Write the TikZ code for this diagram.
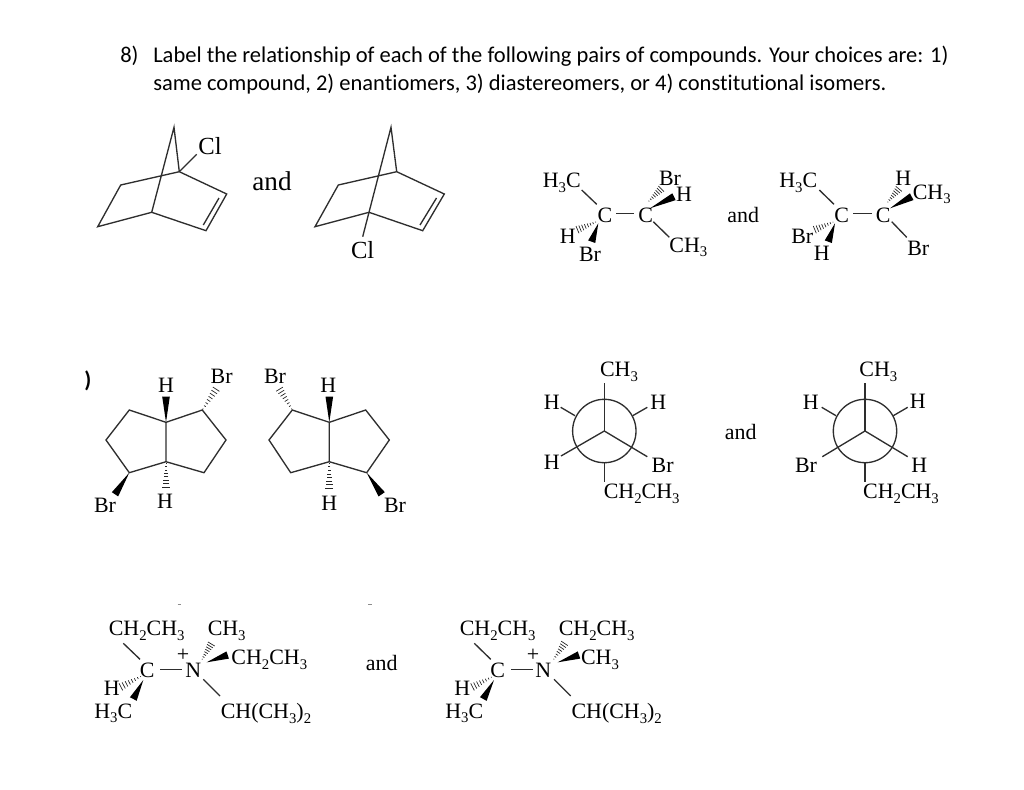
\documentclass[tikz,border=0pt]{standalone}
\usepackage{fontspec}
\setmainfont{Liberation Serif}
\newfontfamily\qfont[Ligatures=CommonOff]{Carlito}
\usetikzlibrary{calc}
\newcommand{\sbs}[1]{\raisebox{-0.22em}{\fontsize{10.5}{10.5}\selectfont #1}}
\tikzset{
  chem/.style={inner sep=0pt,font=\fontsize{15.6}{18}\selectfont},
  bigchem/.style={inner sep=0pt,font=\fontsize{17.5}{20}\selectfont},
  question/.style={inner sep=0pt,anchor=base west,font=\qfont\fontsize{16}{18}\selectfont},
  bond/.style={line width=0.95pt,draw=black!82},
  wedgebond/.style={fill=black,to path={-- ($(\tikztotarget)!2.7pt!90:(\tikztostart)$) -- ($(\tikztotarget)!2.7pt!-90:(\tikztostart)$) -- cycle}},
  hashbond/.style={line width=0.5pt,draw=black!85,to path={
    \foreach \t/\w in {0.05/0.3pt,0.18/0.7pt,0.31/1pt,0.44/1.4pt,0.57/1.7pt,0.7/2.1pt,0.83/2.4pt,0.96/2.8pt}
      {($(\tikztostart)!\t!(\tikztotarget)!\w!90:(\tikztotarget)$) -- ($(\tikztostart)!\t!(\tikztotarget)!\w!-90:(\tikztotarget)$)}}},
}
\begin{document}
\begin{tikzpicture}[x=0.025cm,y=-0.025cm]
  \useasboundingbox (0,0) rectangle (1024,789);

  % question
  \node[question] (num) at (120,62) {8)};
  \node[question] (line1) at (153,62) {Label the relationship of each of the following pairs of compounds. Your choices are: 1)};
  \node[question] (line2) at (153,90) {same compound, 2) enantiomers, 3) diastereomers, or 4) constitutional isomers.};
  \node[question] (paren) at (84,387) {\bfseries )};

  % first pair
  \coordinate (A1) at (174,127.3);
  \coordinate (A2) at (179.3,171.7);
  \coordinate (A3) at (151.7,212.3);
  \coordinate (A4) at (120.7,185);
  \coordinate (A5) at (97.7,226.7);
  \coordinate (A6) at (226.7,194);
  \coordinate (A7) at (206,230.7);
  \coordinate (A8) at (219,198);
  \coordinate (A9) at (203.3,225);
  \coordinate (A10) at (196.7,154.3);
  \node[bigchem] (ACl) at (210,145.7) {Cl};
  \draw[bond] (A2) -- (A1) -- (A3) -- (A5) -- (A4) -- (A2) -- (A6) -- (A7) -- (A3);
  \draw[bond] (A8) -- (A9);
  \draw[bond] (A2) -- (A10);
  \node[bigchem,font=\fontsize{19.3}{22}\selectfont] (and1) at (272,181) {and};

  \coordinate (B1) at (391,127.3);
  \coordinate (B2) at (396.7,171.7);
  \coordinate (B3) at (369,212.3);
  \coordinate (B4) at (338.3,185);
  \coordinate (B5) at (315,226.7);
  \coordinate (B6) at (444.3,194);
  \coordinate (B7) at (422.7,230.7);
  \coordinate (B8) at (436.5,198);
  \coordinate (B9) at (420,225);
  \coordinate (B10) at (362.7,236.7);
  \node[bigchem] (BCl) at (362.7,250) {Cl};
  \draw[bond] (B2) -- (B1) -- (B3) -- (B5) -- (B4) -- (B2) -- (B6) -- (B7) -- (B3);
  \draw[bond] (B8) -- (B9);
  \draw[bond] (B3) -- (B10);

  % second pair
  \node[chem] (C1) at (605,215) {C};
  \node[chem] (C2) at (645.7,215) {C};
  \node[chem] (C3) at (561.7,182.7) {H\sbs{3}C};
  \node[chem] (C4) at (670,178.3) {Br};
  \node[chem] (C5) at (684,194) {H};
  \node[chem] (C6) at (688.3,247.3) {CH\sbs{3}};
  \node[chem] (C7) at (567.7,236) {H};
  \node[chem] (C8) at (590,254) {Br};
  \coordinate (c1) at (581.7,190);
  \coordinate (c2) at (596.7,204.3);
  \coordinate (c3) at (616,213.3);
  \coordinate (c4) at (634,213.3);
  \coordinate (c5) at (596.7,221.7);
  \coordinate (c6) at (576.7,230);
  \coordinate (c7) at (598.3,223.3);
  \coordinate (c8) at (591.7,241.7);
  \coordinate (c9) at (648.3,201.7);
  \coordinate (c10) at (661.7,188.3);
  \coordinate (c11) at (650,208.3);
  \coordinate (c12) at (674,196.7);
  \coordinate (c13) at (653.3,221.7);
  \coordinate (c14) at (669.3,237.3);
  \draw[bond] (c1) -- (c2);
  \draw[bond] (c3) -- (c4);
  \draw[bond] (c13) -- (c14);
  \draw[hashbond] (c5) to (c6);
  \draw[hashbond] (c9) to (c10);
  \fill[wedgebond] (c7) to (c8);
  \fill[wedgebond] (c11) to (c12);
  \node[chem] (and2) at (743.3,215) {and};

  \node[chem] (D1) at (841.7,215) {C};
  \node[chem] (D2) at (883.3,215) {C};
  \node[chem] (D3) at (798.3,182.7) {H\sbs{3}C};
  \node[chem] (D4) at (903.3,178.3) {H};
  \node[chem] (D5) at (931.7,194.3) {CH\sbs{3}};
  \node[chem] (D6) at (918.3,248.3) {Br};
  \node[chem] (D7) at (802.3,236) {Br};
  \node[chem] (D8) at (821.7,253.3) {H};
  \coordinate (d1) at (819.3,190);
  \coordinate (d2) at (834,204.3);
  \coordinate (d3) at (853.3,213.3);
  \coordinate (d4) at (871.7,213.3);
  \coordinate (d5) at (834,221.7);
  \coordinate (d6) at (814,230);
  \coordinate (d7) at (835,223.3);
  \coordinate (d8) at (828.3,241.7);
  \coordinate (d9) at (887.3,202.7);
  \coordinate (d10) at (899.3,188.3);
  \coordinate (d11) at (890,208.3);
  \coordinate (d12) at (911.7,196.7);
  \coordinate (d13) at (891.7,221.7);
  \coordinate (d14) at (906.7,237.3);
  \draw[bond] (d1) -- (d2);
  \draw[bond] (d3) -- (d4);
  \draw[bond] (d13) -- (d14);
  \draw[hashbond] (d5) to (d6);
  \draw[hashbond] (d9) to (d10);
  \fill[wedgebond] (d7) to (d8);
  \fill[wedgebond] (d11) to (d12);

  % third pair
  \coordinate (E1) at (166,422.3);
  \coordinate (E2) at (166,461.7);
  \coordinate (E3) at (129.3,410);
  \coordinate (E4) at (106,440);
  \coordinate (E5) at (129.3,472.7);
  \coordinate (E6) at (202.3,410);
  \coordinate (E7) at (226,440);
  \coordinate (E8) at (204,472.7);
  \coordinate (e1) at (166,396.7);
  \coordinate (e2) at (216.7,388.3);
  \coordinate (e3) at (115,494.3);
  \coordinate (e4) at (166,488);
  \node[chem] (EH1) at (166,385) {H};
  \node[chem] (EBr1) at (221.7,376.7) {Br};
  \node[chem] (EBr2) at (105,505) {Br};
  \node[chem] (EH2) at (165,501.7) {H};
  \draw[bond] (E1) -- (E3) -- (E4) -- (E5) -- (E2) -- (E8) -- (E7) -- (E6) -- (E1) -- (E2);
  \fill[wedgebond] (E1) to (e1);
  \fill[wedgebond] (E5) to (e3);
  \draw[hashbond] (E6) to (e2);
  \draw[hashbond] (E2) to (e4);

  \coordinate (F1) at (329.3,422.3);
  \coordinate (F2) at (329.3,461.7);
  \coordinate (F3) at (292.3,410);
  \coordinate (F4) at (269,440);
  \coordinate (F5) at (290.7,472.7);
  \coordinate (F6) at (365.7,410);
  \coordinate (F7) at (389.3,440);
  \coordinate (F8) at (366.7,472.7);
  \coordinate (f1) at (329.3,396.7);
  \coordinate (f2) at (279,388.3);
  \coordinate (f3) at (381.7,494.3);
  \coordinate (f4) at (329.3,489.3);
  \node[chem] (FH1) at (328.3,385) {H};
  \node[chem] (FBr1) at (275,376.7) {Br};
  \node[chem] (FBr2) at (395,505) {Br};
  \node[chem] (FH2) at (329.3,503.3) {H};
  \draw[bond] (F1) -- (F3) -- (F4) -- (F5) -- (F2) -- (F8) -- (F7) -- (F6) -- (F1) -- (F2);
  \fill[wedgebond] (F1) to (f1);
  \fill[wedgebond] (F8) to (f3);
  \draw[hashbond] (F3) to (f2);
  \draw[hashbond] (F2) to (f4);

  % fourth pair
  \coordinate (G0) at (604.3,431);
  \draw[bond] (G0) circle (31.7);
  \coordinate (g1) at (604.3,383.3);
  \coordinate (g2) at (561,456);
  \coordinate (g3) at (647.3,456.7);
  \coordinate (g4) at (560.7,407.3);
  \coordinate (g5) at (575,415.7);
  \coordinate (g6) at (647.3,407.3);
  \coordinate (g7) at (632.7,415.7);
  \coordinate (g8) at (604.3,463.3);
  \coordinate (g9) at (604.3,482.3);
  \draw[bond] (g1) -- (G0);
  \draw[bond] (g2) -- (G0);
  \draw[bond] (g3) -- (G0);
  \draw[bond] (g4) -- (g5);
  \draw[bond] (g6) -- (g7);
  \draw[bond] (g8) -- (g9);
  \node[chem] (GCH) at (619,371.7) {CH\sbs{3}};
  \node[chem] (GH1) at (551.7,402.7) {H};
  \node[chem] (GH2) at (658.3,402.7) {H};
  \node[chem] (GH3) at (551.7,462.3) {H};
  \node[chem] (GBr) at (662.7,465) {Br};
  \node[chem] (GEt) at (641.7,494) {CH\sbs{2}CH\sbs{3}};
  \node[chem] (and3) at (740.7,431.7) {and};

  \coordinate (H0) at (865,431);
  \draw[bond] (H0) circle (31.7);
  \coordinate (h1) at (865,383.3);
  \coordinate (h2) at (822.3,456.7);
  \coordinate (h3) at (907.7,456.7);
  \coordinate (h4) at (821.7,407.3);
  \coordinate (h5) at (836,415.7);
  \coordinate (h6) at (907.7,407.3);
  \coordinate (h7) at (893.3,415.7);
  \coordinate (h8) at (865,463.3);
  \coordinate (h9) at (865,482.3);
  \draw[bond] (h1) -- (H0);
  \draw[bond] (h2) -- (H0);
  \draw[bond] (h3) -- (H0);
  \draw[bond] (h4) -- (h5);
  \draw[bond] (h6) -- (h7);
  \draw[bond] (h8) -- (h9);
  \node[chem] (HCH) at (878.3,371.7) {CH\sbs{3}};
  \node[chem] (HH1) at (810.7,402.7) {H};
  \node[chem] (HH2) at (917.7,401.7) {H};
  \node[chem] (HBr) at (806,465.7) {Br};
  \node[chem] (HH3) at (919.3,465) {H};
  \node[chem] (HEt) at (901,494) {CH\sbs{2}CH\sbs{3}};

  % fifth pair
  \node[chem] (I1) at (147.3,670.7) {C};
  \node[chem] (I2) at (193.3,670.7) {N};
  \node[chem] (Iplus) at (183,655.5) {+};
  \node[chem] (I3) at (146.7,630.7) {CH\sbs{2}CH\sbs{3}};
  \node[chem] (I4) at (226.7,630.7) {CH\sbs{3}};
  \node[chem] (I5) at (269.3,660) {CH\sbs{2}CH\sbs{3}};
  \node[chem] (I6) at (266,713.3) {CH(CH\sbs{3})\sbs{2}};
  \node[chem] (I7) at (111.7,688.3) {H};
  \node[chem] (I8) at (113.3,713.3) {H\sbs{3}C};
  \coordinate (i1) at (160,669.3);
  \coordinate (i2) at (181.7,669.3);
  \coordinate (i3) at (123.3,643.3);
  \coordinate (i4) at (140,659.3);
  \coordinate (i5) at (201.7,660);
  \coordinate (i6) at (211.7,643.3);
  \coordinate (i7) at (206.7,662.3);
  \coordinate (i8) at (227.7,655);
  \coordinate (i9) at (203.3,679.3);
  \coordinate (i10) at (220,696);
  \coordinate (i11) at (141.7,676);
  \coordinate (i12) at (120,687.3);
  \coordinate (i13) at (143.3,680);
  \coordinate (i14) at (133.3,699);
  \draw[bond] (i1) -- (i2);
  \draw[bond] (i3) -- (i4);
  \draw[bond] (i9) -- (i10);
  \draw[hashbond] (i5) to (i6);
  \draw[hashbond] (i11) to (i12);
  \fill[wedgebond] (i7) to (i8);
  \fill[wedgebond] (i13) to (i14);
  \node[chem] (and4) at (381.7,663.3) {and};

  \node[chem] (J1) at (497.7,670.7) {C};
  \node[chem] (J2) at (543.3,670.7) {N};
  \node[chem] (Jplus) at (533,655.5) {+};
  \node[chem] (J3) at (497.7,630.7) {CH\sbs{2}CH\sbs{3}};
  \node[chem] (J4) at (596.7,630.7) {CH\sbs{2}CH\sbs{3}};
  \node[chem] (J5) at (600,660) {CH\sbs{3}};
  \node[chem] (J6) at (616.7,713.3) {CH(CH\sbs{3})\sbs{2}};
  \node[chem] (J7) at (462.3,688.3) {H};
  \node[chem] (J8) at (464.3,713.3) {H\sbs{3}C};
  \coordinate (j1) at (511,669.3);
  \coordinate (j2) at (532.7,669.3);
  \coordinate (j3) at (474.3,643.3);
  \coordinate (j4) at (490.7,659.3);
  \coordinate (j5) at (553.3,660);
  \coordinate (j6) at (565,642.7);
  \coordinate (j7) at (557.7,662.3);
  \coordinate (j8) at (579,655);
  \coordinate (j9) at (554,679.3);
  \coordinate (j10) at (570.7,696);
  \coordinate (j11) at (492.3,676.7);
  \coordinate (j12) at (471.7,687.3);
  \coordinate (j13) at (494,680);
  \coordinate (j14) at (483.3,699);
  \draw[bond] (j1) -- (j2);
  \draw[bond] (j3) -- (j4);
  \draw[bond] (j9) -- (j10);
  \draw[hashbond] (j5) to (j6);
  \draw[hashbond] (j11) to (j12);
  \fill[wedgebond] (j7) to (j8);
  \fill[wedgebond] (j13) to (j14);

  % stray marks
  \coordinate (m1) at (177.5,604);
  \coordinate (m2) at (181,604);
  \coordinate (m3) at (368,604);
  \coordinate (m4) at (372,604);
  \draw[draw=black!45,line width=0.5pt] (m1) -- (m2);
  \draw[draw=black!45,line width=0.5pt] (m3) -- (m4);
\end{tikzpicture}
\end{document}
